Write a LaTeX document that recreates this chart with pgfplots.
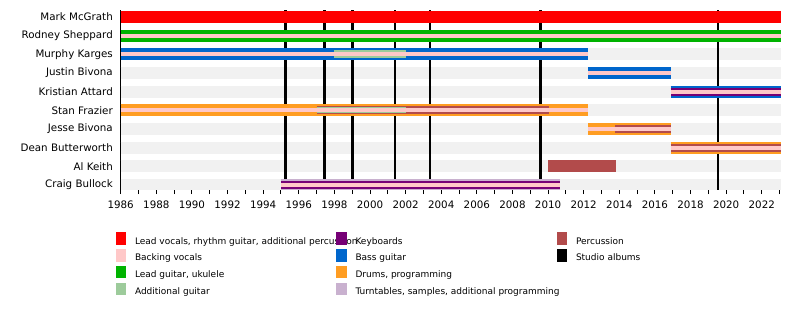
\documentclass[border=0pt]{standalone}
\usepackage{fontspec}
\setmainfont{DejaVu Sans}
\usepackage{pgfplots}
\pgfplotsset{compat=1.18}

% role colours
\definecolor{cVocals}{HTML}{FF0000}
\definecolor{cBacking}{HTML}{FFC8C8}
\definecolor{cLeadGtr}{HTML}{00B300}
\definecolor{cAddGtr}{HTML}{9DCB9B}
\definecolor{cKeys}{HTML}{760076}
\definecolor{cBass}{HTML}{0066CC}
\definecolor{cDrums}{HTML}{FF9D22}
\definecolor{cTurn}{HTML}{C9B1CF}
\definecolor{cPerc}{HTML}{B24B4B}
\definecolor{cStripe}{HTML}{F1F1F1}

\pgfplotsset{
  bar12/.style={forget plot, line width=12bp, draw=#1},
  bar8/.style={forget plot, line width=8bp, draw=#1},
  bar6/.style={forget plot, line width=6bp, draw=#1},
  bar4/.style={forget plot, line width=4bp, draw=#1},
  sq/.style={legend image code/.code={%
      \path[fill=#1, draw=none] (0bp,-0.7bp) rectangle (10.5bp,11.7bp);
      \path[draw=none, fill=none] (0bp,-3.5bp) rectangle (19.3bp,11.7bp);}},
  nosq/.style={legend image code/.code={%
      \path[draw=none, fill=none] (0bp,-3.5bp) rectangle (19.3bp,11.7bp);}},
}
\newcommand{\entry}[1]{\makebox[201.2bp][l]{#1}}

\begin{document}
\begin{tikzpicture}
\path[use as bounding box] (0,0) rectangle (800bp,310bp);
\begin{axis}[
  at={(120.7bp,120bp)}, anchor=south west,
  scale only axis, width=660.3bp, height=180bp,
  xmin=1986, xmax=2023.08, ymin=0.732, ymax=10.375,
  axis lines*=left,
  axis line style={line width=1bp, black},
  xtick={1986,1988,...,2022},
  minor xtick={1987,1989,...,2023},
  xtick align=outside,
  major tick length=4bp, minor tick length=4bp,
  tick style={line width=1bp, black},
  ytick={1,...,10},
  yticklabels={Craig Bullock, Al Keith, Dean Butterworth, Jesse Bivona, Stan Frazier,
               Kristian Attard, Justin Bivona, Murphy Karges, Rodney Sheppard, Mark McGrath},
  ytick style={draw=none},
  ytick align=inside,
  /pgf/number format/assume math mode=true,
  /pgf/number format/1000 sep={},
  xticklabel style={font=\fontsize{10.3bp}{12bp}\selectfont, inner sep=0pt, yshift=-7bp},
  yticklabel style={font=\fontsize{10.3bp}{12bp}\selectfont, inner sep=0pt, xshift=-7.7bp},
  legend columns=3,
  legend style={at={(-0.00757,-0.235)}, anchor=north west, draw=none, fill=none,
    inner sep=0pt, outer sep=0pt, row sep=1.7bp, column sep=0pt,
    nodes={inner sep=0pt, outer sep=0pt, text depth=0pt},
    cells={anchor=base west},
    font=\fontsize{9bp}{11bp}\selectfont},
]
% light background band behind every row
\foreach \r in {1,...,10} {
  \edef\tmp{\noexpand\addplot[bar12=cStripe] coordinates {(1986,\r) (2023.08,\r)};}
  \tmp
}

% studio albums
\addplot[forget plot, line width=2.6bp, black] coordinates {(1995.24,0.5) (1995.24,11)};
\addplot[forget plot, line width=2.6bp, black] coordinates {(1997.43,0.5) (1997.43,11)};
\addplot[forget plot, line width=2.6bp, black] coordinates {(1999.00,0.5) (1999.00,11)};
\addplot[forget plot, line width=2.6bp, black] coordinates {(2001.40,0.5) (2001.40,11)};
\addplot[forget plot, line width=2.6bp, black] coordinates {(2003.38,0.5) (2003.38,11)};
\addplot[forget plot, line width=2.6bp, black] coordinates {(2009.56,0.5) (2009.56,11)};
\addplot[forget plot, line width=2.6bp, black] coordinates {(2019.55,0.5) (2019.55,11)};

% Mark McGrath
\addplot[bar12=cVocals] coordinates {(1986,10) (2023.08,10)};
% Rodney Sheppard
\addplot[bar12=cLeadGtr] coordinates {(1986,9) (2023.08,9)};
\addplot[bar4=cBacking] coordinates {(1986,9) (2023.08,9)};
% Murphy Karges
\addplot[bar12=cBass] coordinates {(1986,8) (2012.25,8)};
\addplot[bar8=cAddGtr] coordinates {(1998,8) (2002,8)};
\addplot[bar4=cBacking] coordinates {(1986,8) (2012.25,8)};
% Justin Bivona
\addplot[bar12=cBass] coordinates {(2012.25,7) (2016.88,7)};
\addplot[bar4=cBacking] coordinates {(2012.25,7) (2016.88,7)};
% Kristian Attard
\addplot[bar12=cBass] coordinates {(2016.88,6) (2023.08,6)};
\addplot[bar8=cKeys] coordinates {(2016.88,6) (2023.08,6)};
\addplot[bar4=cBacking] coordinates {(2016.88,6) (2023.08,6)};
% Stan Frazier
\addplot[bar12=cDrums] coordinates {(1986,5) (2012.25,5)};
\addplot[bar8=cPerc] coordinates {(1997,5) (2010.05,5)};
\addplot[bar6=cAddGtr] coordinates {(1997,5) (2002,5)};
\addplot[bar4=cBacking] coordinates {(1986,5) (2012.25,5)};
% Jesse Bivona
\addplot[bar12=cDrums] coordinates {(2012.25,4) (2016.88,4)};
\addplot[bar8=cPerc] coordinates {(2013.76,4) (2016.88,4)};
\addplot[bar4=cBacking] coordinates {(2012.25,4) (2016.88,4)};
% Dean Butterworth
\addplot[bar12=cDrums] coordinates {(2016.88,3) (2023.08,3)};
\addplot[bar8=cPerc] coordinates {(2016.88,3) (2023.08,3)};
\addplot[bar4=cBacking] coordinates {(2016.88,3) (2023.08,3)};
% Al Keith
\addplot[bar12=cPerc] coordinates {(2010.0,2) (2013.8,2)};
% Craig Bullock
\addplot[bar12=cTurn] coordinates {(1995,1) (2010.67,1)};
\addplot[bar8=cKeys] coordinates {(1995,1) (2010.67,1)};
\addplot[bar4=cBacking] coordinates {(1995,1) (2010.67,1)};

% legend, filled row by row over three columns
\addlegendimage{sq=cVocals}
\addlegendentry{\entry{Lead vocals, rhythm guitar, additional percussion}}
\addlegendimage{sq=cKeys}
\addlegendentry{\entry{Keyboards}}
\addlegendimage{sq=cPerc}
\addlegendentry{\entry{Percussion}}
\addlegendimage{sq=cBacking}
\addlegendentry{\entry{Backing vocals}}
\addlegendimage{sq=cBass}
\addlegendentry{\entry{Bass guitar}}
\addlegendimage{sq=black}
\addlegendentry{\entry{Studio albums}}
\addlegendimage{sq=cLeadGtr}
\addlegendentry{\entry{Lead guitar, ukulele}}
\addlegendimage{sq=cDrums}
\addlegendentry{\entry{Drums, programming}}
\addlegendimage{nosq}
\addlegendentry{\entry{}}
\addlegendimage{sq=cAddGtr}
\addlegendentry{\entry{Additional guitar}}
\addlegendimage{sq=cTurn}
\addlegendentry{\entry{Turntables, samples, additional programming}}
\addlegendimage{nosq}
\addlegendentry{\entry{}}
\end{axis}
\end{tikzpicture}
\end{document}
